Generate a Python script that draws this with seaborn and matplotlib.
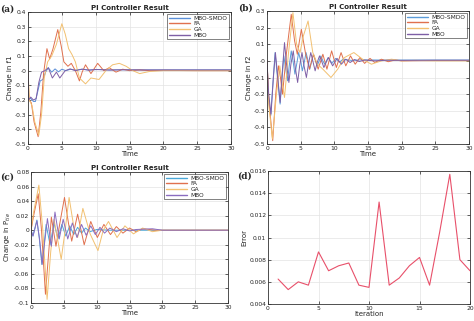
import matplotlib
matplotlib.use("Agg")
import matplotlib.pyplot as plt
import numpy as np
import pandas as pd
import seaborn as sns
from matplotlib.ticker import FormatStrFormatter

series_names = ["MBO-SMDO", "FA", "GA", "MBO"]

# ---------- Panel (a): Change in f1 (time, value) ----------
a_smdo = [(0, 0), (0.1, -0.19), (0.4, -0.19), (0.8, -0.21), (1.1, -0.21), (1.4, -0.15), (1.8, -0.07),
          (2.2, -0.06), (2.6, -0.01), (3.0, 0.02), (3.5, -0.01), (4.0, 0.012), (4.5, -0.008), (5.0, 0.01),
          (5.6, 0.0), (6.3, 0.01), (7.0, 0.004), (8.0, 0.01), (9.0, 0.005), (10.5, 0.008), (12.0, 0.005),
          (14.0, 0.006), (17.0, 0.005), (20.0, 0.005), (25.0, 0.005), (30.0, 0.005)]
a_fa = [(0, 0), (0.15, -0.2), (0.5, -0.22), (0.9, -0.35), (1.5, -0.45), (1.9, -0.28), (2.3, -0.02),
        (2.8, 0.15), (3.2, 0.08), (3.7, 0.15), (4.4, 0.28), (4.9, 0.17), (5.3, 0.06), (5.9, 0.03),
        (6.4, 0.05), (7.0, 0.0), (7.6, -0.07), (8.0, -0.01), (8.5, 0.04), (9.3, -0.02), (10.3, 0.05),
        (11.2, 0.0), (12.0, 0.02), (13.0, -0.01), (14.0, 0.01), (15.0, 0.0), (16.5, 0.005), (18.0, 0.0),
        (20.0, 0.002), (25.0, 0.0), (30.0, 0.0)]
a_ga = [(0, 0), (0.2, -0.2), (0.6, -0.24), (1.0, -0.35), (1.6, -0.44), (2.0, -0.3), (2.4, -0.05),
        (2.9, 0.06), (3.5, 0.1), (4.2, 0.18), (5.0, 0.32), (5.5, 0.25), (6.0, 0.15), (6.5, 0.11),
        (7.0, 0.06), (7.6, -0.05), (8.5, -0.09), (9.3, -0.05), (10.5, -0.06), (11.5, 0.0), (12.5, 0.04),
        (13.5, 0.05), (14.5, 0.03), (15.5, 0.0), (16.5, -0.02), (18.0, -0.005), (20.0, 0.0), (25.0, 0.0),
        (30.0, 0.0)]
a_mbo = [(0, 0), (0.1, -0.2), (0.4, -0.18), (0.8, -0.2), (1.2, -0.19), (1.6, -0.08), (2.0, -0.01),
         (2.5, 0.0), (3.0, 0.02), (3.6, -0.05), (4.2, -0.01), (4.7, -0.05), (5.5, 0.0), (6.2, 0.012),
         (7.0, 0.0), (8.0, 0.01), (9.0, 0.003), (10.0, 0.008), (12.0, 0.004), (14.0, 0.006), (17.0, 0.005),
         (20.0, 0.005), (25.0, 0.005), (30.0, 0.005)]

# ---------- Panel (b): Change in f2 ----------
b_smdo = [(0, 0), (0.2, -0.22), (0.55, -0.33), (0.9, -0.12), (1.2, 0.05), (1.55, -0.1), (1.95, -0.26),
          (2.25, -0.1), (2.5, 0.03), (2.75, -0.04), (3.05, -0.12), (3.3, -0.03), (3.6, 0.06), (3.9, -0.01),
          (4.15, -0.08), (4.45, -0.01), (4.7, 0.05), (5.0, 0.0), (5.25, -0.06), (5.55, -0.005), (5.8, 0.05),
          (6.1, 0.0), (6.35, -0.05), (6.65, 0.0), (6.9, 0.04), (7.2, 0.0), (7.45, -0.03), (7.75, 0.0),
          (8.0, 0.03), (8.3, 0.0), (8.55, -0.02), (9.1, 0.02), (9.65, -0.015), (10.2, 0.015), (10.75, -0.008),
          (11.3, 0.01), (12.5, 0.003), (14.0, 0.006), (17.0, 0.005), (20.0, 0.005), (25.0, 0.005), (30.0, 0.005)]
b_fa = [(0, 0), (0.3, -0.25), (0.85, -0.48), (1.3, -0.2), (1.7, -0.03), (2.0, -0.1), (2.3, -0.2),
        (2.9, 0.05), (3.6, 0.28), (4.1, 0.12), (4.5, 0.04), (5.1, 0.19), (5.7, 0.05), (6.3, -0.05),
        (6.9, 0.04), (7.6, -0.05), (8.3, 0.04), (8.9, -0.05), (9.6, 0.06), (10.3, -0.04), (11.0, 0.05),
        (11.7, -0.03), (12.4, 0.03), (13.1, -0.02), (13.8, 0.02), (14.5, -0.015), (15.3, 0.015),
        (16.0, -0.01), (17.0, 0.01), (18.0, -0.005), (19.0, 0.005), (20.0, 0.0), (25.0, 0.002), (30.0, 0.002)]
b_ga = [(0, 0), (0.3, -0.28), (0.8, -0.47), (1.4, -0.2), (1.9, -0.03), (2.2, -0.12), (2.6, -0.22),
        (3.2, 0.05), (3.85, 0.29), (4.4, 0.1), (4.9, 0.05), (5.4, 0.15), (6.1, 0.24), (6.8, 0.05),
        (7.5, -0.02), (8.3, -0.05), (9.5, -0.1), (10.5, -0.05), (11.5, 0.02), (12.9, 0.05), (14.2, 0.01),
        (15.5, -0.02), (17.0, 0.0), (18.5, 0.01), (20.0, 0.0), (22.0, 0.003), (25.0, 0.0), (30.0, 0.0)]
b_mbo = [(0, 0), (0.25, -0.2), (0.6, -0.32), (0.95, -0.1), (1.25, 0.05), (1.6, -0.1), (1.95, -0.25),
         (2.3, -0.05), (2.6, 0.11), (2.9, -0.02), (3.25, -0.13), (3.55, -0.02), (3.9, 0.06), (4.2, -0.04),
         (4.55, -0.13), (4.85, -0.03), (5.2, 0.05), (5.5, -0.03), (5.85, -0.1), (6.15, -0.02), (6.5, 0.05),
         (6.8, 0.0), (7.15, -0.06), (7.45, -0.01), (7.8, 0.03), (8.1, 0.0), (8.45, -0.04), (9.1, 0.02),
         (9.75, -0.03), (10.4, 0.015), (11.05, -0.02), (11.7, 0.01), (12.35, -0.01), (13.0, 0.008),
         (13.7, -0.004), (14.5, 0.005), (16.0, 0.0), (18.0, 0.004), (20.0, 0.003), (25.0, 0.004), (30.0, 0.004)]

# ---------- Panel (c): Change in P_tie ----------
c_smdo = [(0, 0), (0.3, -0.008), (0.9, 0.014), (1.25, -0.01), (1.65, -0.047), (2.0, -0.02), (2.3, 0.008),
          (2.9, -0.02), (3.5, 0.01), (4.1, -0.012), (4.7, 0.008), (5.3, -0.008), (5.9, 0.006), (6.5, -0.006),
          (7.1, 0.004), (7.7, -0.004), (8.3, 0.003), (9.0, -0.002), (10.0, 0.001), (12.0, 0.0), (30.0, 0.0)]
c_fa = [(0, 0), (0.4, 0.02), (1.1, 0.05), (1.6, 0.0), (2.2, -0.088), (2.7, -0.03), (3.1, 0.018),
        (3.8, -0.022), (4.4, 0.01), (5.1, 0.045), (5.7, 0.01), (6.2, -0.015), (7.1, 0.022), (8.1, -0.02),
        (9.1, 0.012), (10.1, -0.01), (11.1, 0.008), (12.1, -0.006), (13.0, 0.005), (14.0, -0.004),
        (15.0, 0.003), (16.0, -0.002), (17.0, 0.002), (19.0, 0.0), (30.0, 0.0)]
c_ga = [(0, 0), (0.4, 0.025), (1.2, 0.062), (1.8, 0.0), (2.45, -0.095), (3.0, -0.03), (3.5, 0.015),
        (4.0, -0.01), (4.6, -0.04), (5.2, 0.0), (5.8, 0.045), (6.6, 0.0), (7.1, -0.01), (7.9, 0.03),
        (9.0, -0.005), (10.2, -0.028), (11.0, 0.0), (11.8, 0.012), (13.1, -0.01), (14.3, 0.006),
        (15.6, -0.005), (17.0, 0.003), (18.5, -0.002), (20.0, 0.0), (30.0, 0.0)]
c_mbo = [(0, 0), (0.3, -0.008), (0.9, 0.013), (1.3, -0.012), (1.7, -0.047), (2.1, -0.015), (2.5, 0.016),
         (3.1, -0.022), (3.65, 0.025), (4.3, -0.012), (4.9, 0.015), (5.6, -0.012), (6.3, 0.01), (7.0, -0.01),
         (7.7, 0.008), (8.4, -0.007), (9.1, 0.006), (9.8, -0.006), (10.5, 0.004), (11.2, -0.004),
         (12.0, 0.003), (13.0, -0.002), (14.0, 0.002), (15.0, -0.001), (16.0, 0.001), (18.5, 0.002),
         (20.0, 0.0), (30.0, 0.0)]

# ---------- Panel (d): Error per iteration ----------
d_iter = list(range(1, 21))
d_error = [0.00625, 0.0053, 0.006, 0.0057, 0.0087, 0.007, 0.00745, 0.0077, 0.0057, 0.0055,
           0.0132, 0.0057, 0.00635, 0.00745, 0.0082, 0.0057, 0.0105, 0.0157, 0.008, 0.007]

# ---------- styling ----------
sns.set_theme(style="whitegrid")
plt.rcParams.update({
    "font.family": ["DejaVu Sans"],
    "axes.unicode_minus": False,
    "axes.edgecolor": "#333333",
    "axes.linewidth": 0.6,
    "grid.color": "#e3e3e3",
    "grid.linewidth": 0.5,
    "xtick.direction": "in",
    "ytick.direction": "in",
    "xtick.major.size": 2,
    "ytick.major.size": 2,
    "xtick.major.width": 0.5,
    "ytick.major.width": 0.5,
    "xtick.bottom": True,
    "ytick.left": True,
    "xtick.major.pad": 1.2,
    "ytick.major.pad": 1.2,
})

TICK_FS = 4.3
LAB_FS = 5.0

palettes = {
    "a": {"MBO-SMDO": "#5b8fd8", "FA": "#e0704e", "GA": "#f2c070", "MBO": "#7e5fa6"},
    "b": {"MBO-SMDO": "#5b9bd8", "FA": "#e0704e", "GA": "#f2c070", "MBO": "#7e5fa6"},
    "c": {"MBO-SMDO": "#4aa8d8", "FA": "#e0704e", "GA": "#f2c070", "MBO": "#8a6cc0"},
}


def to_frame(curves):
    rows = []
    for name, pts in zip(series_names, curves):
        for t, v in pts:
            rows.append({"t": t, "v": v, "series": name})
    return pd.DataFrame(rows)


fig = plt.figure(figsize=(4.74, 3.21), dpi=100)

W, H = 474.0, 321.0


def axes_px(x0, y0, x1, y1):
    return fig.add_axes([x0 / W, 1 - y1 / H, (x1 - x0) / W, (y1 - y0) / H])


ax_a = axes_px(28, 12, 231, 144)
ax_b = axes_px(267, 11, 469, 144)
ax_c = axes_px(31, 172, 228, 303)
ax_d = axes_px(268, 171, 470, 304)

ts_specs = [
    (ax_a, [a_smdo, a_fa, a_ga, a_mbo], "a", (-0.5, 0.4), np.arange(-0.5, 0.41, 0.1), "Change in f1"),
    (ax_b, [b_smdo, b_fa, b_ga, b_mbo], "b", (-0.5, 0.3), np.arange(-0.5, 0.31, 0.1), "Change in f2"),
    (ax_c, [c_smdo, c_fa, c_ga, c_mbo], "c", (-0.1, 0.08), np.arange(-0.1, 0.081, 0.02), r"Change in P$_{tie}$"),
]

for ax, curves, key, ylim, yt, ylab in ts_specs:
    df = to_frame(curves)
    sns.lineplot(data=df, x="t", y="v", hue="series", hue_order=series_names,
                 palette=palettes[key], linewidth=0.7, ax=ax, legend=False, sort=True,
                 estimator=None)
    ax.set_xlim(0, 30)
    ax.set_ylim(*ylim)
    ax.set_xticks(np.arange(0, 31, 5))
    ax.set_yticks(np.round(yt, 3))
    ax.yaxis.set_major_formatter(FormatStrFormatter("%g"))
    ax.tick_params(labelsize=TICK_FS, colors="#222222", top=True, right=True, length=2)
    ax.set_xlabel("Time", fontsize=LAB_FS, labelpad=0.5)
    ax.set_ylabel(ylab, fontsize=LAB_FS, labelpad=1)
    ax.set_title("PI Controller Result", fontsize=5, fontweight="bold", pad=1.5)
    for s in ax.spines.values():
        s.set_visible(True)
        s.set_color("#333333")
    handles = [plt.Line2D([], [], color=palettes[key][n], lw=1.0) for n in series_names]
    leg = ax.legend(handles, series_names, loc="upper right", fontsize=4.2, frameon=True,
                    fancybox=False, edgecolor="#222222", handlelength=3.6, handletextpad=0.6,
                    borderpad=0.3, labelspacing=0.1, borderaxespad=0.3)
    leg.get_frame().set_linewidth(0.5)

df_d = pd.DataFrame({"iteration": d_iter, "error": d_error})
sns.lineplot(data=df_d, x="iteration", y="error", color="#e8506a", linewidth=0.8, ax=ax_d)
ax_d.set_xlim(0, 20)
ax_d.set_ylim(0.004, 0.016)
ax_d.set_xticks([0, 5, 10, 15, 20])
ax_d.set_yticks([0.004, 0.006, 0.008, 0.01, 0.012, 0.014, 0.016])
ax_d.yaxis.set_major_formatter(FormatStrFormatter("%g"))
ax_d.tick_params(labelsize=TICK_FS, colors="#222222", top=True, right=True, length=2)
ax_d.set_xlabel("Iteration", fontsize=LAB_FS, labelpad=0.5)
ax_d.set_ylabel("Error", fontsize=LAB_FS, labelpad=1)
for s in ax_d.spines.values():
    s.set_visible(True)
    s.set_color("#333333")

for lbl, x, y in [("(a)", 0, 9), ("(b)", 238, 8), ("(c)", 0, 177), ("(d)", 237, 176)]:
    fig.text(x / W, 1 - y / H, lbl, fontsize=6.5, fontweight="bold", family="DejaVu Serif",
             ha="left", va="center")

fig.savefig("out.png", dpi=100)
